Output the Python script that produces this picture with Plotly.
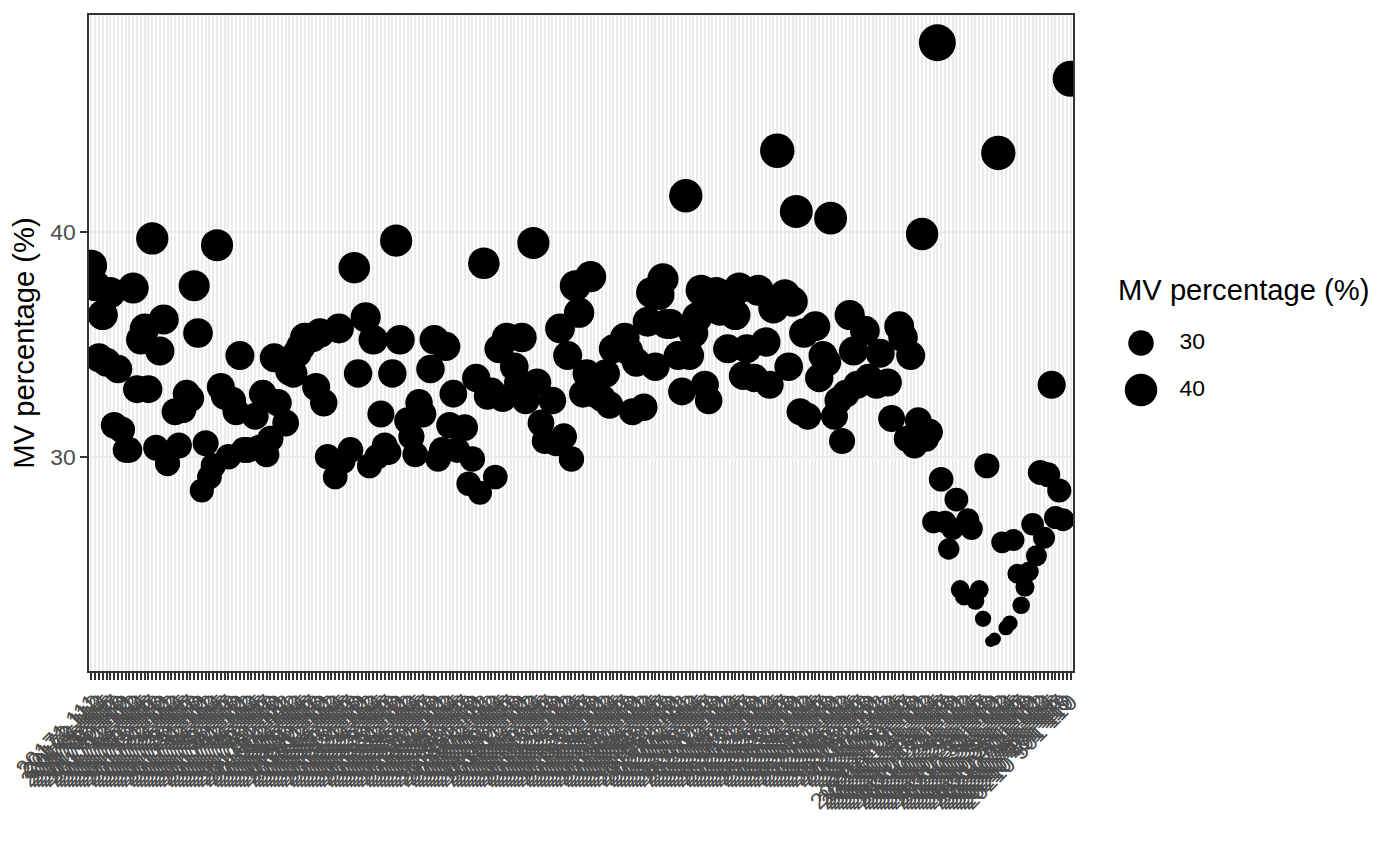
import plotly.graph_objects as go

# Etiquetas de cada categoria del eje x
week_labels = [
    "20171 111", "20172 112", "20173 113", "20174 114", "201705 115", "201706 116", "201707 117", "201708 118",
    "201709 119", "201710 110", "201711 111", "201712 112", "201713 113", "201714 114", "201715 115", "201716 116",
    "201717 117", "201718 118", "201719 119", "201720 110", "201721 111", "201722 112", "201723 113", "201724 114",
    "201725 115", "201726 116", "201727 117", "201728 118", "201729 119", "201730 110", "201731 111", "201732 112",
    "201733 113", "201734 114", "201735 115", "201736 116", "201737 117", "201738 118", "201739 119", "201740 110",
    "201741 111", "201742 112", "201743 113", "201744 114", "201745 115", "201746 116", "201747 117", "201748 118",
    "201749 119", "201750 110", "201751 111", "201752 112",
    "201801 111", "201802 112", "201803 113", "201804 114", "201805 115", "201806 116", "201807 117", "201808 118",
    "201809 119", "201810 110", "201811 111", "201812 112", "201813 113", "201814 114", "201815 115", "201816 116",
    "201817 117", "201818 118", "201819 119", "201820 110", "201821 111", "201822 112", "201823 113", "201824 114",
    "201825 115", "201826 116", "201827 117", "201828 118", "201829 119", "201830 110", "201831 111", "201832 112",
    "201833 113", "201834 114", "201835 115", "201836 116", "201837 117", "201838 118", "201839 119", "201840 110",
    "201841 111", "201842 112", "201843 113", "201844 114", "201845 115", "201846 116", "201847 117", "201848 118",
    "201849 119", "201850 110", "201851 111", "201852 112",
    "201901 111", "201902 112", "201903 113", "201904 114", "201905 115", "201906 116", "201907 117", "201908 118",
    "201909 119", "201910 110", "201911 111", "201912 112", "201913 113", "201914 114", "201915 115", "201916 116",
    "201917 117", "201918 118", "201919 119", "201920 110", "201921 111", "201922 112", "201923 113", "201924 114",
    "201925 115", "201926 116", "201927 117", "201928 118", "201929 119", "201930 110", "201931 111", "201932 112",
    "201933 113", "201934 114", "201935 115", "201936 116", "201937 117", "201938 118", "201939 119", "201940 110",
    "201941 111", "201942 112", "201943 113", "201944 114", "201945 115", "201946 116", "201947 117", "201948 118",
    "201949 119", "201950 110", "201951 111", "201952 112",
    "202001 111", "202002 112", "202003 113", "202004 114", "202005 115", "202006 116", "202007 117", "202008 118",
    "202009 119", "202010 110", "202011 111", "202012 112", "202013 113", "202014 114", "202015 115", "202016 116",
    "202017 117", "202018 118", "202019 119", "202020 110", "202021 111", "202022 112", "202023 113", "202024 114",
    "202025 115", "202026 116", "202027 117", "202028 118", "202029 119", "202030 110", "202031 111", "202032 112",
    "202033 113", "202034 114", "202035 115", "202036 116", "202037 117", "202038 118", "202039 119", "202040 110",
    "202041 111", "202042 112", "202043 113", "202044 114", "202045 115", "202046 116", "202047 117", "202048 118",
    "202049 119", "202050 110", "202051 111", "202052 112",
    "202101 111", "202102 112", "202103 113", "202104 114", "202105 115", "202106 116", "202107 117", "202108 118",
    "202109 119",
    "20210 101 110", "20210 111 111", "20210 121 112", "20210 131 113", "20210 141 114", "20210 151 115",
    "20210 161 116", "20210 171 117", "20210 181 118", "20210 191 119", "20210 201 110", "20210 211 111",
    "20210 221 112", "20210 231 113", "20210 241 114", "20210 251 115", "20210 261 116", "20210 271 117",
    "20210 281 118", "20210 291 119", "20210 301 110", "20210 311 111", "20210 321 112", "20210 331 113",
    "20210 341 114", "20210 351 115", "20210 361 116", "20210 371 117", "20210 381 118", "20210 391 119",
    "20210 401 110", "20210 411 111", "20210 421 112", "20210 431 113", "20210 441 114", "20210 451 115",
    "20210 461 116", "20210 471 117", "20210 481 118", "20210 491 119", "20210 501 110",
]

# Indice de categoria de cada punto
point_slot = [
    0, 1, 2, 3, 4, 5, 6, 7, 8, 9, 10, 11, 12, 13, 14, 15, 16, 17, 18, 19, 20, 22, 23, 24, 25, 26, 27, 28, 29, 30,
    31, 32, 33, 34, 35, 36, 37, 38, 39, 40, 41, 43, 44, 45, 46, 47, 48, 49, 51, 52, 53, 54, 55, 56, 58, 59, 60, 61,
    62, 64, 65, 66, 68, 69, 70, 72, 73, 74, 75, 76, 77, 78, 79, 80, 81, 83, 84, 85, 86, 87, 89, 90, 91, 92, 93, 94,
    95, 96, 98, 99, 100, 101, 102, 103, 104, 105, 106, 107, 108, 109, 111, 112, 113, 114, 116, 117, 118, 119, 121,
    122, 123, 124, 125, 126, 127, 128, 129, 130, 131, 132, 134, 135, 136, 137, 140, 141, 142, 143, 145, 146, 147,
    148, 149, 150, 151, 152, 154, 155, 156, 157, 158, 159, 160, 161, 162, 164, 165, 167, 168, 169, 170, 171, 172,
    174, 175, 177, 178, 179, 180, 182, 183, 184, 185, 186, 187, 188, 190, 191, 192, 193, 194, 195, 196, 197, 198,
    199, 200, 201, 203, 204, 206, 207, 209, 210, 212, 213, 214, 215, 216, 217, 218, 219, 220, 221, 222, 223, 224,
    225, 226, 227, 228, 229, 230, 231, 232, 233, 234, 235, 236, 237, 238, 239, 240, 241, 242, 243, 244, 245, 246,
    247, 248, 249, 250, 251, 252, 253, 254, 255, 257,
]
mv_percentage = [
    38.5, 37.6, 34.4, 36.3, 34.2, 37.3, 31.4, 33.9, 31.2, 30.3, 30.3, 37.5, 33.0, 35.2, 35.7, 33.0, 39.7, 30.4, 34.7,
    36.1, 29.7, 32.0, 30.5, 32.1, 32.8, 32.6, 37.6, 35.5, 28.5, 30.6, 29.1, 29.6, 39.4, 33.1, 32.7, 30.0, 32.5, 32.0,
    34.5, 30.3, 30.3, 31.8, 30.4, 32.8, 30.1, 30.8, 34.4, 32.4, 31.5, 33.8, 33.7, 34.6, 34.9, 35.3, 35.3, 33.1, 35.5,
    32.4, 30.0, 29.1, 35.7, 29.8, 30.3, 38.4, 33.7, 36.2, 29.6, 35.2, 30.0, 31.9, 30.5, 30.2, 33.7, 39.6, 35.2, 31.6,
    30.9, 30.1, 32.4, 31.9, 33.9, 35.2, 29.9, 30.3, 34.9, 31.4, 32.8, 30.3, 31.3, 28.8, 29.9, 33.5, 28.4, 38.6, 32.7,
    32.9, 29.1, 34.8, 32.6, 35.3, 34.0, 33.3, 35.3, 32.5, 39.5, 33.3, 31.5, 30.7, 32.5, 30.6, 35.7, 30.9, 34.5, 29.9,
    37.6, 36.4, 32.8, 33.7, 38.0, 32.8, 32.6, 33.7, 32.3, 34.8, 35.3, 34.7, 32.0, 34.2, 32.2, 36.0, 37.3, 34.0, 37.2,
    37.9, 35.9, 35.9, 34.5, 32.9, 41.6, 34.5, 35.5, 36.2, 37.4, 33.2, 32.5, 37.3, 36.5, 34.8, 36.5, 36.3, 37.5, 33.6,
    34.8, 33.5, 37.4, 35.1, 33.2, 36.6, 43.6, 37.2, 34.0, 36.9, 40.9, 32.0, 35.5, 31.8, 35.8, 33.5, 34.5, 34.2, 40.6,
    31.8, 32.5, 30.7, 32.8, 36.3, 34.7, 33.2, 35.6, 33.5, 33.2, 34.6, 33.3, 31.7, 35.8, 35.3, 30.8, 34.5, 30.5, 31.6,
    39.9, 30.8, 31.1, 27.1, 48.4, 29.0, 27.1, 25.9, 26.8, 28.1, 24.1, 23.8, 27.2, 26.8, 23.6, 24.1, 22.8, 29.6, 21.8,
    21.9, 43.5, 26.2, 22.4, 22.6, 26.3, 24.8, 23.4, 24.2, 24.9, 27.0, 25.6, 29.3, 26.4, 29.2, 33.2, 27.3, 28.5, 27.2,
    46.8,
]
legend_values = [30, 40]
y_ticks = [30, 40]

TEXT_FONT = "Liberation Sans"
AXIS_GREY = "#4D4D4D"
BORDER = "#333333"
GRID = "#EBEBEB"

# La pagina deja 8 px de margen: el panel queda en x=89..1073, y=15..671 de la foto
PAGE_PAD = 8
WIDTH = 1400 - PAGE_PAD
HEIGHT = 865 - PAGE_PAD
LEFT = 89 - PAGE_PAD
TOP = 15 - PAGE_PAD
PLOT_W = WIDTH - LEFT
PLOT_H = 865 - 15 - 194


def point_size(value):
    # Escala de area: diametro en pixeles segun el valor
    lo, hi = min(mv_percentage), max(mv_percentage)
    return 11.3 + 25.6 * ((value - lo) / (hi - lo)) ** 0.5


fig = go.Figure()

fig.add_trace(go.Scatter(
    x=[week_labels[i] for i in point_slot],
    y=mv_percentage,
    mode="markers",
    marker=dict(color="black", size=[point_size(v) for v in mv_percentage], line=dict(width=0), opacity=1),
    showlegend=False,
))

# Leyenda de tamanos en ejes propios (la leyenda de plotly limita el marcador a 16 px)
legend_labels = [str(v) for v in legend_values]
fig.add_trace(go.Scatter(
    x=[0.0816] * len(legend_values),
    y=legend_labels,
    xaxis="x2",
    yaxis="y2",
    mode="markers",
    marker=dict(color="black", size=[point_size(v) for v in legend_values], line=dict(width=0), opacity=1),
    showlegend=False,
    cliponaxis=False,
))
fig.add_trace(go.Scatter(
    x=[0.218] * len(legend_values),
    y=legend_labels,
    xaxis="x2",
    yaxis="y2",
    mode="text",
    text=legend_labels,
    textposition="middle right",
    textfont=dict(family=TEXT_FONT, size=22.9, color="black"),
    showlegend=False,
    cliponaxis=False,
))

fig.update_layout(
    width=WIDTH,
    height=HEIGHT,
    margin=dict(l=LEFT, r=0, t=TOP, b=194, autoexpand=False),
    paper_bgcolor="white",
    plot_bgcolor="white",
    font=dict(family=TEXT_FONT, color="black"),
    xaxis=dict(
        domain=[0, 984 / PLOT_W],
        type="category",
        categoryorder="array",
        categoryarray=week_labels,
        range=[-0.6, len(week_labels) - 0.4],
        tickmode="array",
        tickvals=week_labels,
        ticktext=week_labels,
        tickangle=-45,
        ticklabeloverflow="allow",
        tickfont=dict(family=TEXT_FONT, size=22.9, color=AXIS_GREY),
        ticks="outside",
        ticklen=7,
        tickwidth=2,
        tickcolor=BORDER,
        showgrid=True,
        gridcolor=GRID,
        gridwidth=2,
        showline=True,
        mirror=True,
        linecolor=BORDER,
        linewidth=1.5,
        zeroline=False,
        layer="above traces",
    ),
    yaxis=dict(
        range=[20.48, 49.63],
        tickmode="array",
        tickvals=y_ticks,
        tickfont=dict(family=TEXT_FONT, size=22.9, color=AXIS_GREY),
        ticks="outside",
        ticklen=7,
        tickwidth=2,
        tickcolor=BORDER,
        showgrid=True,
        gridcolor=GRID,
        gridwidth=2,
        showline=True,
        mirror=True,
        linecolor=BORDER,
        linewidth=1.5,
        zeroline=False,
        layer="above traces",
        title=dict(text="MV percentage (%)", font=dict(family=TEXT_FONT, size=29.2, color="black"), standoff=8),
    ),
    xaxis2=dict(domain=[(1118 - 89) / PLOT_W, 1], range=[0, 1], visible=False, anchor="y2", fixedrange=True),
    yaxis2=dict(
        domain=[(671 - 413.5) / PLOT_H, (671 - 319.5) / PLOT_H],
        type="category",
        categoryorder="array",
        categoryarray=legend_labels,
        range=[1.5, -0.5],
        visible=False,
        anchor="x2",
        fixedrange=True,
    ),
    annotations=[dict(
        text="MV percentage (%)",
        xref="paper",
        yref="paper",
        x=(1118 - 89) / PLOT_W,
        y=(671 - 290) / PLOT_H,
        xanchor="left",
        yanchor="middle",
        showarrow=False,
        xshift=-2,
        font=dict(family=TEXT_FONT, size=29.2, color="black"),
    )],
)

fig.write_html("out.html")
